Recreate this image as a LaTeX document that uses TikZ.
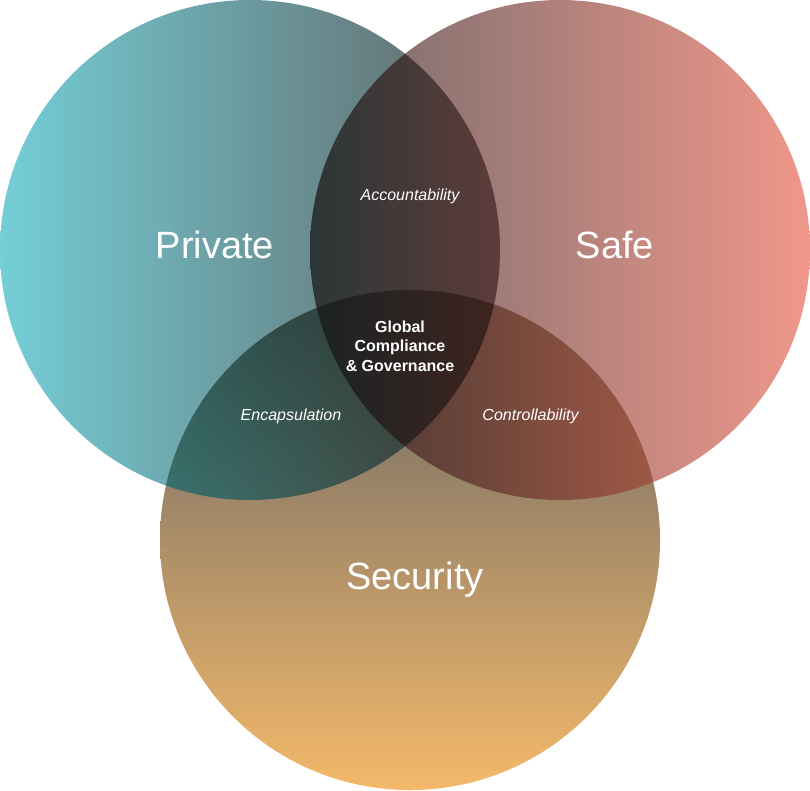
\documentclass[tikz,border=0pt]{standalone}
\usepackage{fontspec}
\setmainfont{Liberation Sans}
\usetikzlibrary{shadings,fadings}
\definecolor{privL}{HTML}{74CED6}
\definecolor{privR}{HTML}{626566}
\definecolor{safeL}{HTML}{716B6C}
\definecolor{safeR}{HTML}{F0978A}
\definecolor{secT}{HTML}{626266}
\definecolor{secB}{HTML}{F4B96A}
\definecolor{lrL}{HTML}{2C3636}
\definecolor{lrR}{HTML}{5E3C3A}
\definecolor{lbL}{HTML}{3A736F}
\definecolor{lbR}{HTML}{424C45}
\definecolor{rbL}{HTML}{5A3F37}
\definecolor{rbR}{HTML}{A05845}
\definecolor{cL}{HTML}{1C2323}
\definecolor{cR}{HTML}{3F2420}
\def\Lc{(250,250) circle (250)}
\def\Rc{(560,250) circle (250)}
\def\Bc{(410,540) circle (250)}
\tikzset{
  big/.style={text=white, font=\fontsize{38}{40}\selectfont},
  small/.style={text=white, font=\fontsize{16}{18}\selectfont\itshape},
  core/.style={text=white, font=\fontsize{16}{19.5}\selectfont\bfseries, align=center}
}
\begin{document}
\begin{tikzpicture}[x=1pt,y=-1pt]
\useasboundingbox (0,0) rectangle (810,790);
% single circles
\shade[left color=privL, right color=privR] \Lc;
\shade[left color=safeL, right color=safeR] \Rc;
\shade[top color=secT, bottom color=secB] \Bc;
% Private & Safe
\begin{scope}
  \clip \Lc; \clip \Rc;
  \shade[left color=lrL, right color=lrR] (310,0) rectangle (500,500);
\end{scope}
% Private & Security
\begin{scope}
  \clip \Lc; \clip \Bc;
  \shade[left color=lbL, right color=lbR] (160,290) rectangle (410,500);
  \fill[black, opacity=0.25, path fading=south] (160,290) rectangle (500,500);
\end{scope}
% Safe & Security
\begin{scope}
  \clip \Rc; \clip \Bc;
  \shade[left color=rbL, right color=rbR] (405,290) rectangle (660,500);
\end{scope}
% all three
\begin{scope}
  \clip \Lc; \clip \Rc; \clip \Bc;
  \shade[left color=cL, right color=cR] (315,290) rectangle (500,460);
\end{scope}
\node[big] (private) at (215,245) {Private};
\node[big] (safe) at (615,245) {Safe};
\node[big] (security) at (415,580) {Security};
\node[small] (acc) at (410,196) {Accountability};
\node[small] (enc) at (291,416) {Encapsulation};
\node[small] (ctl) at (530.5,416) {Controllability};
\node[core] (core) at (400,346) {Global\\Compliance\\\& Governance};
\end{tikzpicture}
\end{document}
